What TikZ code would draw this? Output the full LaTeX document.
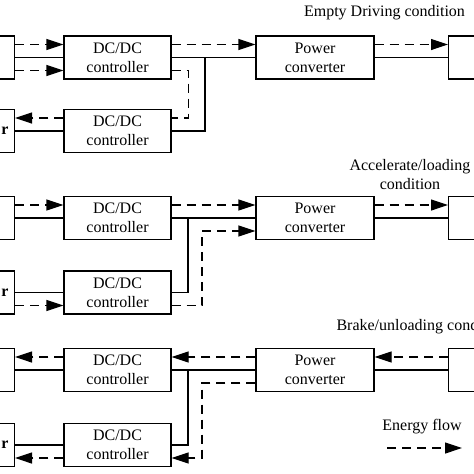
\documentclass[tikz,border=0pt]{standalone}
\usepackage{fontspec}
\setmainfont{Liberation Serif}
\usetikzlibrary{arrows.meta}
\begin{document}
\begin{tikzpicture}[x=1pt,y=-1pt,
  every node/.style={font=\fontsize{16}{19}\selectfont},
  box/.style={draw,line width=1.2pt,align=center,inner sep=0pt},
  dcbox/.style={box,minimum width=107pt,minimum height=43pt},
  pcbox/.style={box,minimum width=118pt,minimum height=43pt},
  lbox/.style={box,anchor=east,minimum width=80pt,minimum height=43pt},
  rbox/.style={box,anchor=west,minimum width=80pt,minimum height=43pt},
  wire/.style={line width=1.2pt},
  flow/.style={line width=1.2pt,dash pattern=on 9pt off 6pt},
  flowarr/.style={flow,-{Triangle[length=17pt,width=11pt]}}
]
\useasboundingbox (0,0) rectangle (474,474);
\clip (0,0) rectangle (474,474);

% ---------- Panel 1 ----------
\node (T1) at (384.5,13) {Empty Driving condition};
\node[lbox] (L1a) at (15,57.5) {};
\node[lbox,text width=68pt,align=right,inner xsep=6pt] (L1b) at (15,131) {\bfseries r};
\node[dcbox] (D1a) at (117.5,57.5) {DC/DC\\controller};
\node[dcbox] (D1b) at (117.5,131) {DC/DC\\controller};
\node[pcbox] (P1) at (315,57.5) {Power\\converter};
\node[rbox] (R1) at (448,57.5) {};
\coordinate (J1) at (205,57.5);

\draw[flowarr] ([yshift=13pt]L1a.east) -- ([yshift=13pt]D1a.west);
\draw[wire] (L1a.east) -- (D1a.west);
\draw[flowarr] ([yshift=-13pt]L1a.east) -- ([yshift=-13pt]D1a.west);
\draw[flowarr] ([yshift=13pt]D1a.east) -- ([yshift=13pt]P1.west);
\draw[wire] (D1a.east) -- (P1.west);
\draw[wire] (J1) |- (D1b.east);
\draw[flow] ([yshift=-13pt]D1a.east) -- ++(17,0) |- ([yshift=13pt]D1b.east);
\draw[flowarr] ([yshift=13pt]D1b.west) -- ([yshift=13pt]L1b.east);
\draw[wire] (L1b.east) -- (D1b.west);
\draw[flowarr] ([yshift=13pt]P1.east) -- ([yshift=13pt]R1.west);
\draw[wire] (P1.east) -- (R1.west);

% ---------- Panel 2 ----------
\node[align=center] (T2) at (410,175) {Accelerate/loading\\condition};
\node[lbox] (L2a) at (15,218) {};
\node[lbox,text width=68pt,align=right,inner xsep=6pt] (L2b) at (15,292.5) {\bfseries r};
\node[dcbox] (D2a) at (117.5,218) {DC/DC\\controller};
\node[dcbox] (D2b) at (117.5,292.5) {DC/DC\\controller};
\node[pcbox] (P2) at (315,218) {Power\\converter};
\node[rbox] (R2) at (448,218) {};
\coordinate (J2) at (188,218);
\coordinate (V2) at (202,305.5);

\draw[flowarr] ([yshift=13pt]L2a.east) -- ([yshift=13pt]D2a.west);
\draw[wire] (L2a.east) -- (D2a.west);
\draw[flowarr] ([yshift=13pt]D2a.east) -- ([yshift=13pt]P2.west);
\draw[wire] (D2a.east) -- (P2.west);
\draw[wire] (J2) |- (D2b.east);
\draw[wire] (L2b.east) -- (D2b.west);
\draw[flowarr] ([yshift=-13pt]L2b.east) -- ([yshift=-13pt]D2b.west);
\draw[flowarr] ([yshift=-13pt]D2b.east) -- (V2) |- ([yshift=-13pt]P2.west);
\draw[flowarr] ([yshift=13pt]P2.east) -- ([yshift=13pt]R2.west);
\draw[wire] (P2.east) -- (R2.west);

% ---------- Panel 3 ----------
\node[anchor=west] (T3) at (333,327) {Brake/unloading condition};
\node[lbox] (L3a) at (15,370) {};
\node[lbox,text width=68pt,align=right,inner xsep=6pt] (L3b) at (15,445) {\bfseries r};
\node[dcbox] (D3a) at (117.5,370) {DC/DC\\controller};
\node[dcbox] (D3b) at (117.5,445) {DC/DC\\controller};
\node[pcbox] (P3) at (315,370) {Power\\converter};
\node[rbox] (R3) at (448,370) {};
\coordinate (J3) at (188,370);
\coordinate (V3) at (202,383);

\draw[flowarr] ([yshift=13pt]D3a.west) -- ([yshift=13pt]L3a.east);
\draw[wire] (L3a.east) -- (D3a.west);
\draw[flowarr] ([yshift=13pt]P3.west) -- ([yshift=13pt]D3a.east);
\draw[wire] (D3a.east) -- (P3.west);
\draw[wire] (J3) |- (D3b.east);
\draw[flowarr] ([yshift=-13pt]P3.west) -- (V3) |- ([yshift=-13pt]D3b.east);
\draw[wire] (L3b.east) -- (D3b.west);
\draw[flowarr] ([yshift=-13pt]D3b.west) -- ([yshift=-13pt]L3b.east);
\draw[flowarr] ([yshift=13pt]R3.west) -- ([yshift=13pt]P3.east);
\draw[wire] (P3.east) -- (R3.west);

% ---------- Legend ----------
\node (EF) at (422,427) {Energy flow};
\coordinate (EFa) at (387,448);
\coordinate (EFb) at (462,448);
\draw[flowarr] (EFa) -- (EFb);
\end{tikzpicture}
\end{document}
